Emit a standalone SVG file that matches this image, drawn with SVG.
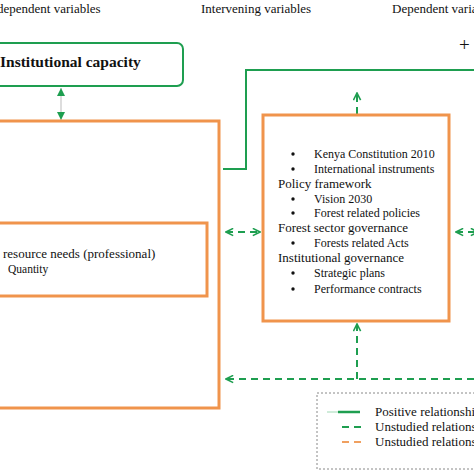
<svg xmlns="http://www.w3.org/2000/svg" width="474" height="474" viewBox="0 0 474 474">
<style>
text{font-family:"Liberation Serif","Times New Roman",serif;fill:#111}
.hd{font-size:13px}
.sub{font-size:12px}
.mid{font-size:13px}
.lg{font-size:13px}
.or{fill:none;stroke:#f0944c;stroke-width:3}
.g{fill:none;stroke:#1e9e50;stroke-width:2}
.gd{fill:none;stroke:#1e9e50;stroke-width:2;stroke-dasharray:7 5}
.od{fill:none;stroke:#f0a060;stroke-width:2;stroke-dasharray:7 5}
</style>
<defs>
<marker id="open" viewBox="0 0 10 10" refX="9" refY="5" markerWidth="9" markerHeight="9" orient="auto-start-reverse" markerUnits="userSpaceOnUse">
<path d="M1,1 L9,5 L1,9" fill="none" stroke="#1e9e50" stroke-width="1.8"/>
</marker>
<marker id="tri" viewBox="0 0 10 10" refX="10" refY="5" markerWidth="8" markerHeight="8" orient="auto-start-reverse" markerUnits="userSpaceOnUse">
<path d="M0,0 L10,5 L0,10 Z" fill="#1e9e50"/>
</marker>
</defs>
<rect width="474" height="474" fill="#fff"/>
<g id="headers">
<text class="hd" x="-3" y="13">dependent variables</text>
<text class="hd" x="201" y="13">Intervening variables</text>
<text class="hd" x="392" y="13">Dependent variables</text>
<text x="459" y="51" style="font-size:19px">+</text>
</g>
<g id="connectors">
<line x1="61" y1="88" x2="61" y2="120" stroke="#bbb" stroke-width="1" marker-start="url(#tri)" marker-end="url(#tri)"/>
<polyline class="g" points="223,169 246,169 246,70 474,70"/>
<line class="gd" x1="357" y1="114" x2="357" y2="93" marker-end="url(#open)"/>
<line class="gd" x1="226" y1="232" x2="260" y2="232" stroke-dasharray="6 5" marker-start="url(#open)" marker-end="url(#open)"/>
<line class="gd" x1="456" y1="232" x2="478" y2="232" marker-start="url(#open)" marker-end="url(#open)"/>
<line class="gd" x1="474" y1="379" x2="226" y2="379" marker-end="url(#open)"/>
<line class="gd" x1="357" y1="379" x2="357" y2="324" marker-end="url(#open)"/>
</g>
<g id="institutional-capacity">
<rect x="-10" y="43" width="193" height="43" rx="6" class="g" stroke-width="2.5"/>
<text x="0" y="67" style="font-size:15.5px;font-weight:bold">Institutional capacity</text>
</g>
<g id="left-box">
<rect x="-10" y="121" width="229" height="287" class="or"/>
</g>
<g id="resource-needs">
<rect x="-10" y="223" width="217" height="73" class="or" stroke-width="2.5"/>
<text class="mid" x="3" y="258">resource needs (professional)</text>
<text x="8" y="273" style="font-size:11.5px">Quantity</text>
</g>
<g id="intervening-box">
<rect x="263" y="115" width="186" height="206" class="or" stroke-width="2.5"/>
<circle cx="293" cy="154" r="1.7" fill="#111"/>
<text class="sub" x="314" y="158">Kenya Constitution 2010</text>
<circle cx="293" cy="169" r="1.7" fill="#111"/>
<text class="sub" x="314" y="173">International instruments</text>
<text class="mid" x="278" y="188">Policy framework</text>
<circle cx="293" cy="199" r="1.7" fill="#111"/>
<text class="sub" x="314" y="203">Vision 2030</text>
<circle cx="293" cy="213" r="1.7" fill="#111"/>
<text class="sub" x="314" y="217">Forest related policies</text>
<text class="mid" x="278" y="232">Forest sector governance</text>
<circle cx="293" cy="243" r="1.7" fill="#111"/>
<text class="sub" x="314" y="247">Forests related Acts</text>
<text class="mid" x="278" y="262">Institutional governance</text>
<circle cx="293" cy="273" r="1.7" fill="#111"/>
<text class="sub" x="314" y="277">Strategic plans</text>
<circle cx="293" cy="289" r="1.7" fill="#111"/>
<text class="sub" x="314" y="293">Performance contracts</text>
</g>
<g id="legend">
<rect x="317" y="393" width="170" height="76" fill="none" stroke="#888" stroke-width="1" stroke-dasharray="2 2"/>
<line x1="327" y1="412" x2="338" y2="412" stroke="#9fd8b4" stroke-width="1"/>
<line x1="338" y1="412" x2="360" y2="412" stroke="#1e9e50" stroke-width="2.5"/>
<line x1="342" y1="427" x2="364" y2="427" class="gd" stroke-dasharray="7 6"/>
<line x1="342" y1="442" x2="364" y2="442" class="od" stroke-dasharray="7 6"/>
<text class="lg" x="375" y="416">Positive relationship</text>
<text class="lg" x="375" y="431">Unstudied relationship</text>
<text class="lg" x="375" y="446">Unstudied relationship</text>
</g>
</svg>
